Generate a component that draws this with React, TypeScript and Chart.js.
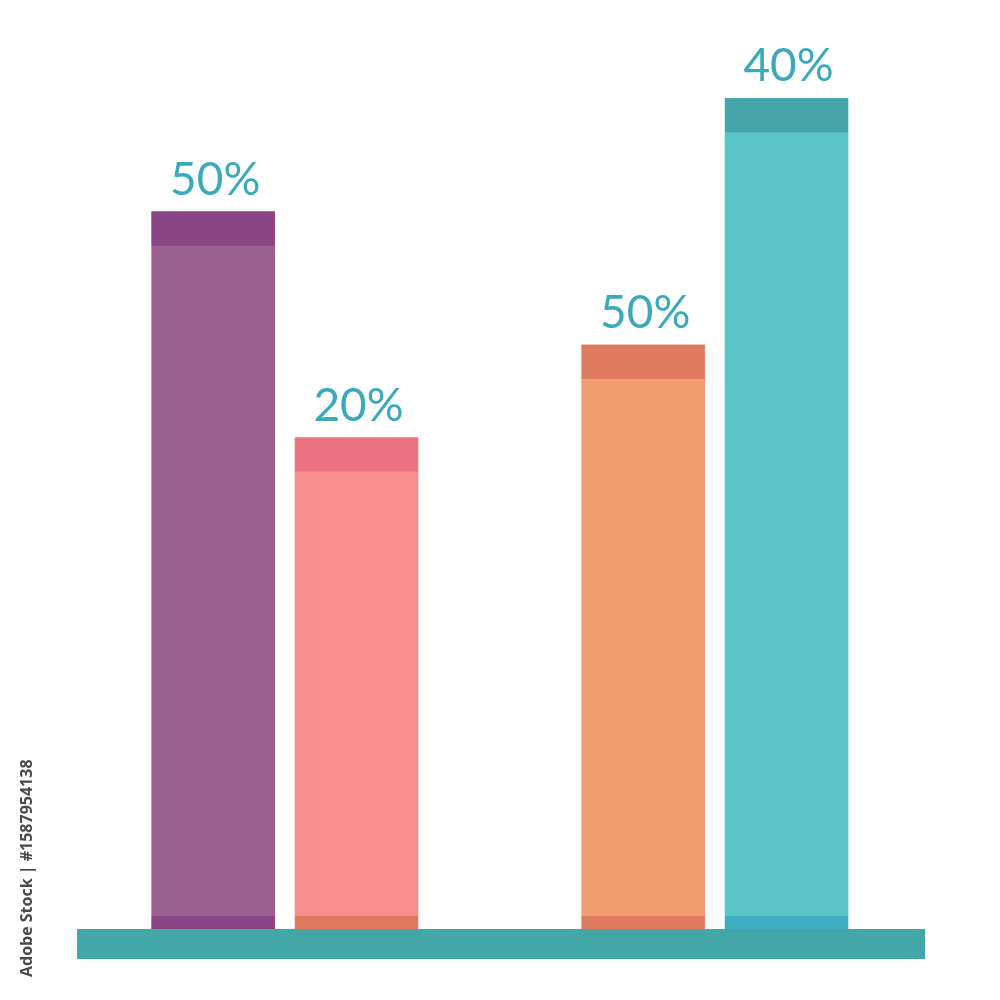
import React, { useEffect, useRef } from "react";
import { Chart, registerables } from "chart.js";

Chart.register(...registerables);

// ---- data ----
const categoryPositions = [1, 2, 4, 5];
const barHeights = [79.7, 54.6, 64.9, 92.3];
const valueLabels = ["50%", "20%", "50%", "40%"];
const bodyColors = ["#9A6190", "#F58E8D", "#F19D6F", "#5AC4C6"];
const capColors = ["#8A4585", "#EE7382", "#E07A5E", "#45A5A8"];
const footColors = ["#8A4585", "#E07A5E", "#E07A5E", "#40ADC0"];
const baseColor = "#43A7A8";
const labelColor = "#3BA9BC";

const decoPlugin = {
  id: "deco",
  beforeDatasetsDraw(chart: any) {
    const { ctx, chartArea } = chart;
    const y0 = chart.scales.y.getPixelForValue(0);
    ctx.save();
    ctx.fillStyle = baseColor;
    ctx.fillRect(chartArea.left, y0, chartArea.right - chartArea.left, 30);
    ctx.restore();
  },
  afterDatasetsDraw(chart: any) {
    const { ctx } = chart;
    const meta = chart.getDatasetMeta(0);
    ctx.save();
    meta.data.forEach((bar: any, i: number) => {
      const { x, y, base, width } = bar.getProps(["x", "y", "base", "width"], true);
      const left = x - width / 2;
      ctx.fillStyle = capColors[i];
      ctx.fillRect(left, y, width, 34);
      ctx.fillStyle = footColors[i];
      ctx.fillRect(left, base - 13, width, 13);
      ctx.fillStyle = labelColor;
      ctx.font = "400 46px Lato";
      ctx.textAlign = "center";
      ctx.textBaseline = "alphabetic";
      ctx.fillText(valueLabels[i], x + 2, y - 17);
    });
    // vertical stock id text
    ctx.translate(32, 977);
    ctx.rotate(-Math.PI / 2);
    ctx.fillStyle = "#4A4A4A";
    ctx.font = "700 16px 'Open Sans'";
    ctx.textAlign = "left";
    ctx.textBaseline = "alphabetic";
    ctx.fillText("Adobe Stock | #1587954138", 0, 0);
    ctx.restore();
  },
};

export default function App() {
  const ref = useRef<HTMLCanvasElement>(null);
  useEffect(() => {
    if (!ref.current) return;
    const chart = new Chart(ref.current, {
      type: "bar",
      data: {
        datasets: [
          {
            data: categoryPositions.map((x, i) => ({ x, y: barHeights[i] })),
            backgroundColor: bodyColors,
            borderWidth: 0,
            barThickness: 123,
          },
        ],
      },
      options: {
        responsive: false,
        animation: false,
        layout: { padding: { left: 77, right: 75, top: 29, bottom: 71 } },
        plugins: { legend: { display: false }, tooltip: { enabled: false } },
        scales: {
          x: { type: "linear", min: 0.05, max: 5.966, display: false, offset: false },
          y: { min: 0, max: 100, display: false },
        },
      },
      plugins: [decoPlugin],
    });
    return () => chart.destroy();
  }, []);
  return (
    <div style={{ position: "fixed", left: 0, top: 0, width: 1000, height: 1000, background: "#fff" }}>
      <canvas ref={ref} width={1000} height={1000} />
    </div>
  );
}
